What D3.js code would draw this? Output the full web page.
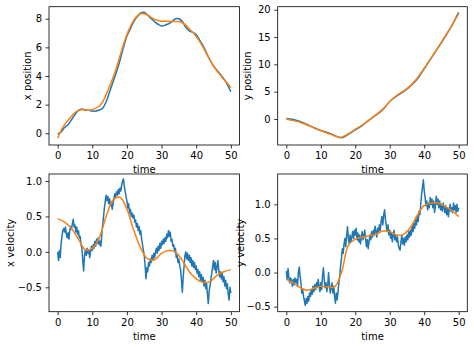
<!DOCTYPE html>
<html>
<head>
<meta charset="utf-8">
<script src="https://cdn.jsdelivr.net/npm/d3@7"></script>
<style>
html,body{margin:0;padding:0;background:#fff;}
svg{display:block;}
text{font-family:"DejaVu Sans",sans-serif;fill:#000;}
</style>
</head>
<body>
<svg id="chart" width="474" height="347"></svg>
<script>
// ---------- data ----------
const timeTicks = [0, 10, 20, 30, 40, 50];
const velStep = 0.25;   // sample spacing of the noisy velocity series
const smoothStep = 2;   // sample spacing of the smooth series

const xVelNoisy = [
 0.0,-0.12,0.02,-0.08, 0.12,0.22,0.3,0.33, 0.28,0.35,0.25,0.2, 0.27,0.18,0.3,0.36,
 0.32,0.4,0.46,0.35, 0.38,0.28,0.35,0.25, 0.3,0.2,0.22,0.1, 0.05,-0.12,-0.27,-0.05,
 0.02,-0.05,0.05,-0.02, 0.03,-0.08,0.0,0.08, 0.02,0.1,0.05,0.15, 0.08,0.18,0.12,0.2,
 0.1,0.15,0.08,0.25, 0.38,0.5,0.62,0.72, 0.8,0.72,0.78,0.68, 0.75,0.65,0.7,0.6,
 0.68,0.75,0.82,0.78, 0.85,0.8,0.88,0.82, 0.9,0.86,0.95,1.0, 1.03,0.92,0.85,0.78,
 0.72,0.62,0.68,0.55, 0.6,0.5,0.55,0.48, 0.52,0.42,0.45,0.35, 0.4,0.3,0.36,0.25,
 0.3,0.18,0.1,0.02, -0.05,-0.2,-0.38,-0.22, -0.28,-0.15,-0.2,-0.1, -0.15,-0.05,-0.12,-0.02,
 -0.08,0.0,0.05,-0.02, 0.08,0.02,0.12,0.05, 0.15,0.1,0.18,0.12, 0.2,0.15,0.25,0.2,
 0.3,0.22,0.28,0.15, 0.18,0.08,0.1,0.0, 0.05,-0.08,-0.05,-0.15, -0.1,-0.2,-0.25,-0.4,
 -0.57,-0.35,-0.2,-0.05, 0.0,-0.1,-0.02,-0.12, -0.05,-0.15,-0.08,-0.2, -0.12,-0.22,-0.15,-0.25,
 -0.2,-0.3,-0.25,-0.35, -0.28,-0.4,-0.32,-0.42, -0.36,-0.48,-0.4,-0.52, -0.45,-0.6,-0.73,-0.55,
 -0.48,-0.38,-0.3,-0.2, -0.12,-0.25,-0.15,-0.3, -0.22,-0.12,-0.25,-0.35, -0.28,-0.38,-0.3,-0.42,
 -0.35,-0.48,-0.4,-0.52, -0.45,-0.6,-0.68,-0.5, -0.58
];
const yVelNoisy = [
 0.02,-0.1,0.06,-0.08, -0.15,-0.08,-0.12,-0.2, -0.1,-0.18,-0.08,-0.15, -0.1,-0.2,0.0,0.08,
 -0.05,-0.15,-0.3,-0.25, -0.35,-0.42,-0.48,-0.38, -0.45,-0.35,-0.42,-0.3, -0.35,-0.25,-0.32,-0.2,
 -0.28,-0.18,-0.25,-0.15, -0.22,-0.1,-0.2,-0.28, -0.15,-0.25,-0.05,0.07, -0.1,-0.22,-0.15,-0.28,
 -0.2,0.0,-0.18,-0.3, -0.22,-0.15,-0.3,-0.2, -0.35,-0.45,-0.3,-0.4, -0.28,-0.15,-0.05,0.1,
 0.2,0.35,0.28,0.42, 0.5,0.38,0.55,0.67, 0.5,0.42,0.55,0.45, 0.52,0.6,0.5,0.62,
 0.55,0.65,0.48,0.58, 0.45,0.55,0.42,0.52, 0.6,0.48,0.55,0.62, 0.5,0.38,0.48,0.35,
 0.45,0.55,0.48,0.6, 0.52,0.62,0.55,0.68, 0.6,0.52,0.65,0.58, 0.7,0.62,0.75,0.82,
 0.7,0.85,0.92,0.78, 0.68,0.6,0.7,0.55, 0.62,0.5,0.58,0.45, 0.55,0.62,0.48,0.55,
 0.45,0.52,0.4,0.35, 0.33,0.45,0.55,0.42, 0.5,0.4,0.52,0.45, 0.55,0.48,0.6,0.52,
 0.62,0.55,0.68,0.6, 0.72,0.65,0.78,0.7, 0.82,0.75,0.9,0.85, 1.0,1.15,1.25,1.36,
 1.2,1.1,0.98,1.05, 0.92,1.02,0.95,1.1, 1.0,1.08,0.95,1.05, 0.88,0.98,1.12,1.0,
 1.08,0.95,1.05,0.92, 1.0,0.9,1.02,0.95, 0.88,0.98,0.85,0.95, 0.82,0.92,1.0,0.9,
 0.95,0.88,1.02,0.92, 0.98,0.88,1.0,0.9, 0.95
];
const xVelSmooth = [0.47,0.42,0.33,0.18,0.03,0.05,0.2,0.5,0.73,0.77,0.6,0.3,0.05,-0.1,-0.11,-0.02,0.02,0.0,-0.12,-0.28,-0.38,-0.43,-0.42,-0.33,-0.28,-0.25];
const yVelSmooth = [-0.1,-0.15,-0.22,-0.26,-0.23,-0.2,-0.21,-0.21,0.0,0.4,0.49,0.52,0.54,0.56,0.61,0.6,0.55,0.56,0.66,0.84,0.98,1.02,1.02,0.97,0.91,0.82];

const posStep = 1;
const xPosTrue = [-0.05,0.1,0.4,0.6,0.95,1.3,1.6,1.7,1.62,1.6,1.55,1.55,1.62,1.75,2.2,2.9,3.6,4.3,5.1,6.0,6.8,7.3,7.8,8.15,8.4,8.45,8.25,8.0,7.8,7.6,7.5,7.55,7.65,7.8,8.0,8.0,7.8,7.4,7.15,7.05,6.9,6.5,6.1,5.6,5.1,4.7,4.4,4.1,3.8,3.4,2.9];
const xPosEst = [-0.35,0.2,0.6,0.9,1.2,1.45,1.6,1.65,1.62,1.6,1.65,1.75,1.9,2.2,2.7,3.3,3.9,4.6,5.4,6.2,6.9,7.45,7.9,8.2,8.35,8.35,8.25,8.1,7.95,7.87,7.83,7.82,7.82,7.8,7.8,7.8,7.72,7.55,7.3,7.05,6.75,6.4,6.0,5.55,5.1,4.7,4.35,4.05,3.75,3.5,3.2];
const yPosTrue = [0.1,-0.1,-0.45,-1.0,-1.6,-2.1,-2.5,-3.0,-3.45,-2.8,-2.0,-1.2,-0.2,0.7,1.7,3.2,4.2,5.0,6.0,7.3,9.2,11.1,13.0,15.0,17.1,19.5];
const yPosEst = [0.0,-0.3,-0.6,-1.1,-1.6,-2.1,-2.6,-3.1,-3.35,-2.7,-1.9,-1.1,-0.2,0.8,1.8,3.2,4.3,5.1,6.1,7.5,9.3,11.2,13.1,15.1,17.1,19.3];

const xPosTicks = [0, 2, 4, 6, 8];
const yPosTicks = [0, 5, 10, 15, 20];
const velTicks = [-0.5, 0.0, 0.5, 1.0];

// ---------- drawing ----------
const svg = d3.select("#chart");
const blue = "#1f77b4", orange = "#ff7f0e";

function series(vals, step) { return vals.map((v, i) => [i * step, v]); }

function panel(o) {
  const g = svg.append("g");
  const x = d3.scaleLinear().domain([-2.5, 52.5]).range([o.left, o.right]);
  const y = d3.scaleLinear().domain(o.ydom).range([o.bottom, o.top]);
  g.append("rect").attr("x", o.left).attr("y", o.top)
    .attr("width", o.right - o.left).attr("height", o.bottom - o.top).attr("fill", "#fff");
  const clip = "clip" + o.id;
  g.append("clipPath").attr("id", clip).append("rect")
    .attr("x", o.left).attr("y", o.top).attr("width", o.right - o.left).attr("height", o.bottom - o.top);
  const lineRaw = d3.line().x(d => x(d[0])).y(d => y(d[1]));
  const lineSmooth = d3.line().x(d => x(d[0])).y(d => y(d[1])).curve(d3.curveCatmullRom.alpha(0.5));
  const plot = g.append("g").attr("clip-path", `url(#${clip})`);
  plot.append("path").datum(o.a).attr("d", o.aSmooth ? lineSmooth : lineRaw)
    .attr("fill", "none").attr("stroke", blue).attr("stroke-width", 1.5).attr("stroke-linejoin", "round");
  plot.append("path").datum(o.b).attr("d", lineSmooth)
    .attr("fill", "none").attr("stroke", orange).attr("stroke-width", 1.5);

  const fmt = o.fmt || (d => String(d));
  const xa = g.append("g").attr("transform", `translate(0,${o.bottom})`)
    .call(d3.axisBottom(x).tickValues(timeTicks).tickSize(3.5).tickPadding(3.5).tickFormat(d => String(d)));
  const ya = g.append("g").attr("transform", `translate(${o.left},0)`)
    .call(d3.axisLeft(y).tickValues(o.yticks).tickSize(3.5).tickPadding(3.5).tickFormat(fmt));
  [xa, ya].forEach(a => {
    a.select(".domain").remove();
    a.selectAll("line").attr("stroke", "#000").attr("stroke-width", 0.8);
    a.selectAll("text").attr("font-size", 10).attr("font-family", "DejaVu Sans").attr("fill", "#000");
  });
  g.append("rect").attr("x", o.left).attr("y", o.top)
    .attr("width", o.right - o.left).attr("height", o.bottom - o.top)
    .attr("fill", "none").attr("stroke", "#000").attr("stroke-width", 0.8);
  g.append("text").attr("x", (o.left + o.right) / 2).attr("y", o.bottom + 28)
    .attr("text-anchor", "middle").attr("font-size", 10).text("time");
  g.append("text").attr("transform", `translate(${o.ylabX},${(o.top + o.bottom) / 2}) rotate(-90)`)
    .attr("text-anchor", "middle").attr("font-size", 10).text(o.ylabel);
}

const velFmt = d => (d < 0 ? "\u2212" : "") + Math.abs(d).toFixed(1);

panel({id: 1, left: 49, right: 239.5, top: 6.7, bottom: 145, ydom: [-0.82, 8.84],
  yticks: xPosTicks, ylabel: "x position", ylabX: 31,
  a: series(xPosTrue, posStep), aSmooth: true, b: series(xPosEst, posStep)});
panel({id: 2, left: 277.7, right: 467.3, top: 6.7, bottom: 145, ydom: [-4.76, 20.55],
  yticks: yPosTicks, ylabel: "y position", ylabX: 251,
  a: series(yPosTrue, smoothStep), aSmooth: true, b: series(yPosEst, smoothStep)});
panel({id: 3, left: 49, right: 239.5, top: 174, bottom: 311.7, ydom: [-0.844, 1.099],
  yticks: velTicks, fmt: velFmt, ylabel: "x velocity", ylabX: 14,
  a: series(xVelNoisy, velStep), b: series(xVelSmooth, smoothStep)});
panel({id: 4, left: 277.7, right: 467.3, top: 174, bottom: 311.7, ydom: [-0.574, 1.445],
  yticks: velTicks, fmt: velFmt, ylabel: "y velocity", ylabX: 244,
  a: series(yVelNoisy, velStep), b: series(yVelSmooth, smoothStep)});
</script>
</body>
</html>
